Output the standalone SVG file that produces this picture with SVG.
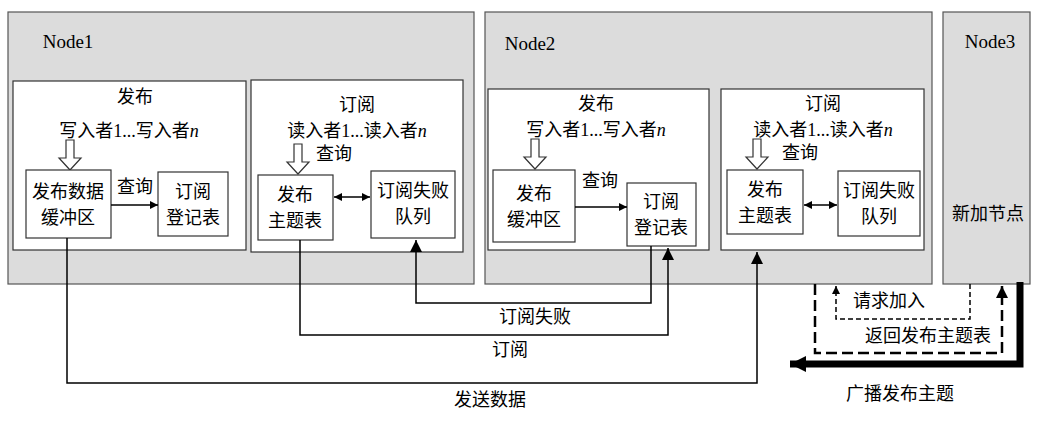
<svg xmlns="http://www.w3.org/2000/svg" width="1049" height="421" viewBox="0 0 1049 421">
<defs>
<marker id="a" viewBox="0 0 10 10" refX="10" refY="5" markerWidth="8" markerHeight="8" markerUnits="userSpaceOnUse" orient="auto-start-reverse"><path d="M0,0L10,5L0,10z" fill="#000"/></marker>
<marker id="b" viewBox="0 0 10 10" refX="10" refY="5" markerWidth="14" markerHeight="12" markerUnits="userSpaceOnUse" orient="auto"><path d="M0,0L10,5L0,10z" fill="#000"/></marker>
<marker id="c" viewBox="0 0 10 10" refX="10" refY="5" markerWidth="22" markerHeight="16" markerUnits="userSpaceOnUse" orient="auto"><path d="M0,0L10,5L0,10z" fill="#000"/></marker>
</defs>
<style>
text{font-family:"Liberation Serif","Noto Sans CJK SC",serif;font-size:18px;fill:#000;text-anchor:middle}
.nl{font-size:19px}
.node{fill:#dcdcdc;stroke:#555;stroke-width:1.2}
.box{fill:#fff;stroke:#333;stroke-width:1.2}
.ln{fill:none;stroke:#000;stroke-width:1.5}
.d1{stroke-dasharray:5,3}
.d2{stroke-dasharray:11,5;stroke-width:2.5}
.thick{stroke-width:7}
.hol{fill:#fff;stroke:#333;stroke-width:1.2}
</style>
<rect width="1049" height="421" fill="#fff"/>
<g id="node1">
<rect class="node" x="8" y="12" width="466" height="272"/>
<text class="nl" x="68" y="48">Node1</text>
<rect class="box" x="13" y="81" width="233" height="169"/>
<text x="135" y="103">发布</text>
<text x="129" y="137">写入者1...写入者<tspan font-style="italic">n</tspan></text>
<path class="hol" d="M66,140h8v18h7l-11,12l-11,-12h7z"/>
<rect class="box" x="26" y="170" width="85" height="68"/>
<text x="68" y="198">发布数据</text><text x="68" y="224">缓冲区</text>
<text x="135" y="193">查询</text>
<rect class="box" x="158" y="172" width="70" height="64"/>
<text x="193" y="198">订阅</text><text x="193" y="224">登记表</text>
<rect class="box" x="251" y="80" width="212" height="172"/>
<text x="357" y="111">订阅</text>
<text x="357" y="137">读入者1...读入者<tspan font-style="italic">n</tspan></text>
<path class="hol" d="M294,144h8v18h7l-11,12l-11,-12h7z"/>
<text x="334" y="160">查询</text>
<rect class="box" x="258" y="175" width="75" height="65"/>
<text x="295" y="201">发布</text><text x="295" y="227">主题表</text>
<rect class="box" x="371" y="171" width="84" height="67"/>
<text x="413" y="197">订阅失败</text><text x="413" y="223">队列</text>
</g>
<g id="node2">
<rect class="node" x="485" y="12" width="447" height="272"/>
<text class="nl" x="530" y="50">Node2</text>
<rect class="box" x="488" y="89" width="221" height="161"/>
<text x="596" y="110">发布</text>
<text x="596" y="136">写入者1...写入者<tspan font-style="italic">n</tspan></text>
<path class="hol" d="M531,139h8v18h7l-11,12l-11,-12h7z"/>
<rect class="box" x="493" y="170" width="82" height="72"/>
<text x="534" y="200">发布</text><text x="534" y="226">缓冲区</text>
<text x="600" y="187">查询</text>
<rect class="box" x="627" y="183" width="69" height="63"/>
<text x="661" y="208">订阅</text><text x="661" y="234">登记表</text>
<rect class="box" x="721" y="89" width="203" height="161"/>
<text x="823" y="110">订阅</text>
<text x="823" y="136">读入者1...读入者<tspan font-style="italic">n</tspan></text>
<path class="hol" d="M753,139h8v18h7l-11,12l-11,-12h7z"/>
<text x="800" y="159">查询</text>
<rect class="box" x="727" y="170" width="76" height="64"/>
<text x="765" y="196">发布</text><text x="765" y="222">主题表</text>
<rect class="box" x="838" y="171" width="82" height="65"/>
<text x="879" y="197">订阅失败</text><text x="879" y="223">队列</text>
</g>
<g id="node3">
<rect class="node" x="943" y="12" width="87" height="272"/>
<text class="nl" x="990" y="48">Node3</text>
<text x="988" y="220">新加节点</text>
</g>
<g id="connectors">
<line class="ln" x1="111" y1="205" x2="158" y2="205" marker-end="url(#a)"/>
<line class="ln" x1="334" y1="197" x2="370" y2="197" marker-start="url(#a)" marker-end="url(#a)"/>
<line class="ln" x1="575" y1="207" x2="627" y2="207" marker-end="url(#a)"/>
<line class="ln" x1="804" y1="205" x2="837" y2="205" marker-start="url(#a)" marker-end="url(#a)"/>
<path class="ln" d="M67,238V383H757V252" marker-end="url(#b)"/>
<path class="ln" d="M651,246V303H416V240" marker-end="url(#b)"/>
<path class="ln" d="M300,240V335H668V248" marker-end="url(#b)"/>
<path class="ln d1" d="M970,284V319H836V286" marker-end="url(#a)"/>
<path class="ln d2" d="M815,284V353H1002V286" marker-end="url(#b)"/>
<path class="ln thick" d="M1020,282V364H790" marker-end="url(#c)"/>
<text x="889" y="307">请求加入</text>
<text x="928" y="342">返回发布主题表</text>
<text x="900" y="400">广播发布主题</text>
<text x="535" y="323">订阅失败</text>
<text x="510" y="356">订阅</text>
<text x="490" y="406">发送数据</text>
</g>
</svg>
